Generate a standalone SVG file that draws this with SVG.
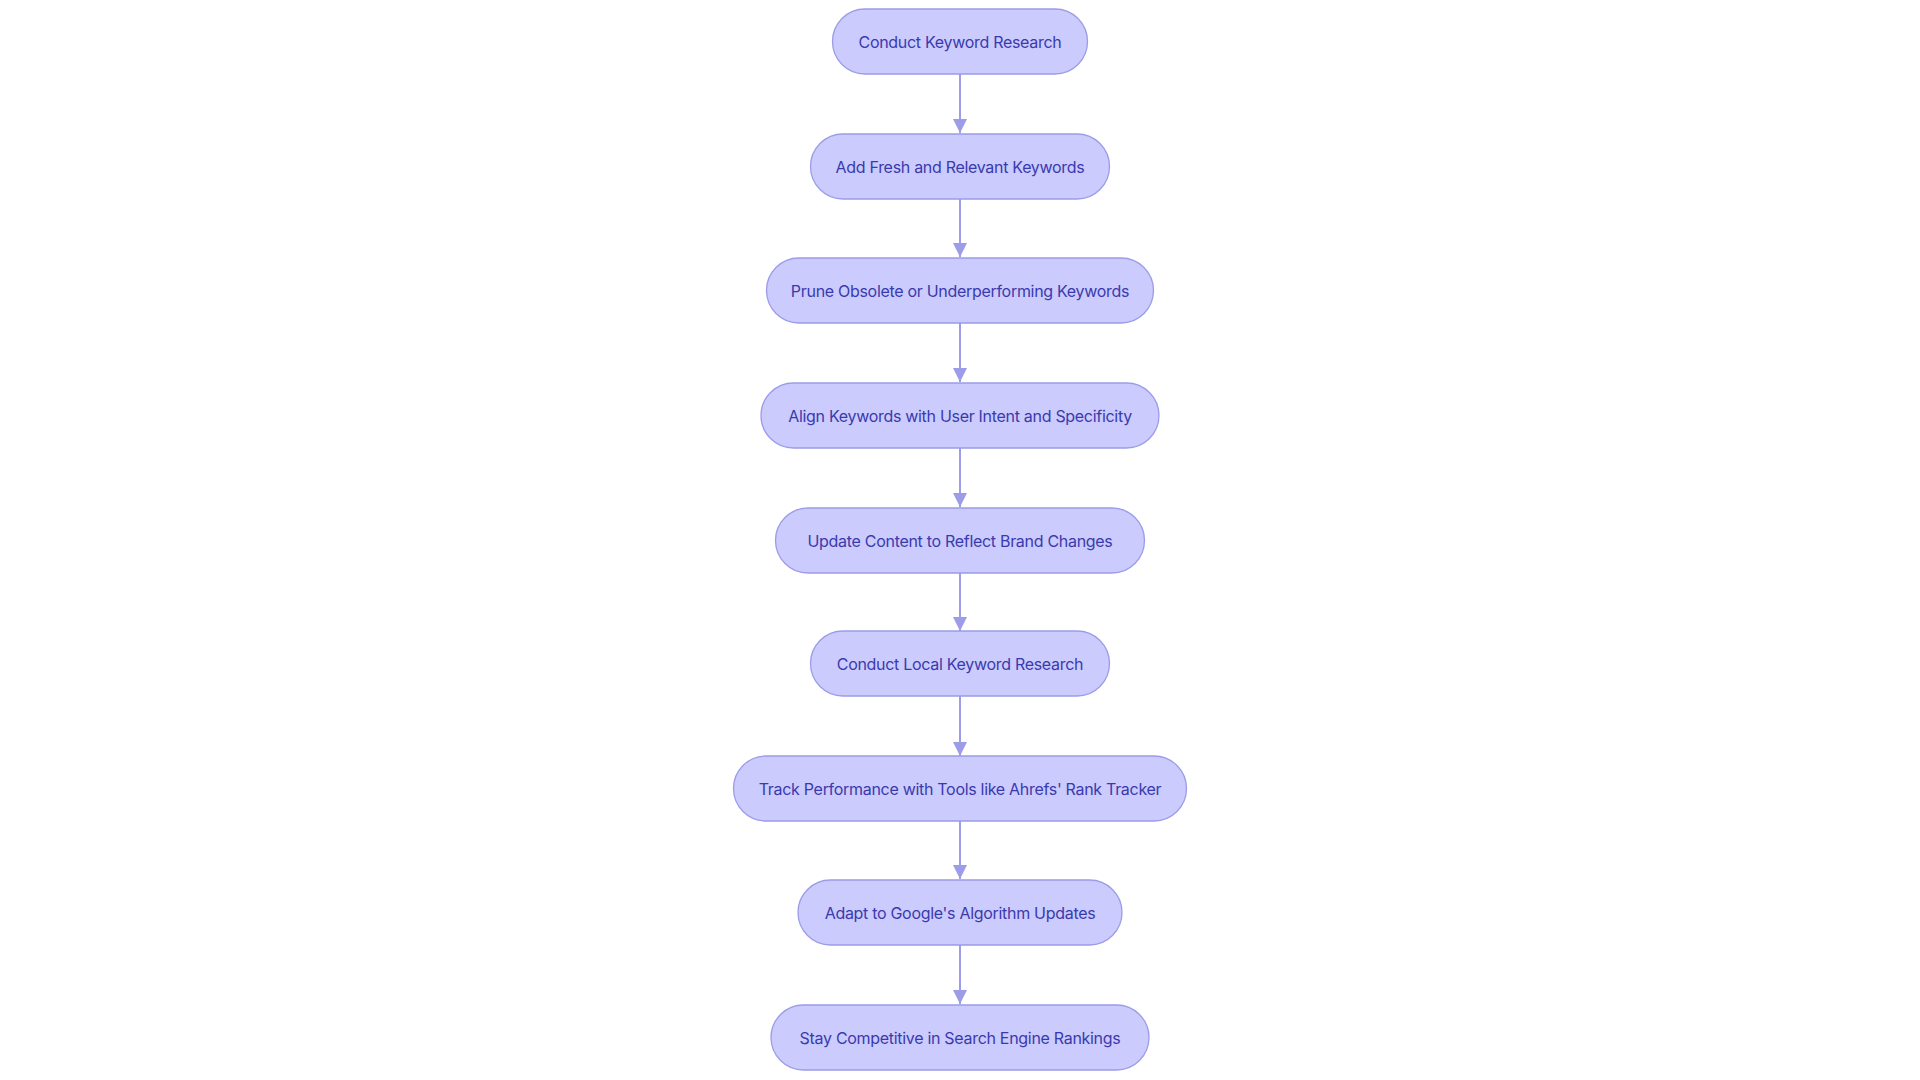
<svg xmlns="http://www.w3.org/2000/svg" width="1920" height="1080" viewBox="0 0 1920 1080">
<style>
.n rect{fill:#cbcbfd;stroke:#9c9ce8;stroke-width:1.3}
.n text{font-family:Inter,"Liberation Sans",sans-serif;font-size:16px;font-weight:400;letter-spacing:-0.3px;fill:#3a3aae;text-anchor:middle;dominant-baseline:central}
.e line{stroke:#9c9ce8;stroke-width:2}
</style>
<defs><marker id="a" viewBox="0 0 10 10" refX="10" refY="5" markerWidth="14" markerHeight="14" orient="auto" markerUnits="userSpaceOnUse"><path d="M0,0L10,5L0,10z" fill="#9c9ce8"/></marker></defs>
<rect width="1920" height="1080" fill="#fff"/>
<g id="connectors" class="e">
<line x1="960" y1="74" x2="960" y2="133" marker-end="url(#a)"/>
<line x1="960" y1="199" x2="960" y2="257" marker-end="url(#a)"/>
<line x1="960" y1="323" x2="960" y2="382" marker-end="url(#a)"/>
<line x1="960" y1="448" x2="960" y2="507" marker-end="url(#a)"/>
<line x1="960" y1="573" x2="960" y2="631" marker-end="url(#a)"/>
<line x1="960" y1="696" x2="960" y2="756" marker-end="url(#a)"/>
<line x1="960" y1="821" x2="960" y2="879" marker-end="url(#a)"/>
<line x1="960" y1="945" x2="960" y2="1004" marker-end="url(#a)"/>
</g>
<g id="n1" class="n"><rect x="832.5" y="9" width="255" height="65" rx="32.5"/><text x="960" y="41.5">Conduct Keyword Research</text></g>
<g id="n2" class="n"><rect x="810.5" y="134" width="299" height="65" rx="32.5"/><text x="960" y="166.5">Add Fresh and Relevant Keywords</text></g>
<g id="n3" class="n"><rect x="766.5" y="258" width="387" height="65" rx="32.5"/><text x="960" y="290.5">Prune Obsolete or Underperforming Keywords</text></g>
<g id="n4" class="n"><rect x="761" y="383" width="398" height="65" rx="32.5"/><text x="960" y="415.5">Align Keywords with User Intent and Specificity</text></g>
<g id="n5" class="n"><rect x="775.5" y="508" width="369" height="65" rx="32.5"/><text x="960" y="540.5">Update Content to Reflect Brand Changes</text></g>
<g id="n6" class="n"><rect x="810.5" y="631" width="299" height="65" rx="32.5"/><text x="960" y="663.5">Conduct Local Keyword Research</text></g>
<g id="n7" class="n"><rect x="733.5" y="756" width="453" height="65" rx="32.5"/><text x="960" y="788.5">Track Performance with Tools like Ahrefs' Rank Tracker</text></g>
<g id="n8" class="n"><rect x="798" y="880" width="324" height="65" rx="32.5"/><text x="960" y="912.5">Adapt to Google's Algorithm Updates</text></g>
<g id="n9" class="n"><rect x="771" y="1005" width="378" height="65" rx="32.5"/><text x="960" y="1037.5">Stay Competitive in Search Engine Rankings</text></g>
</svg>
